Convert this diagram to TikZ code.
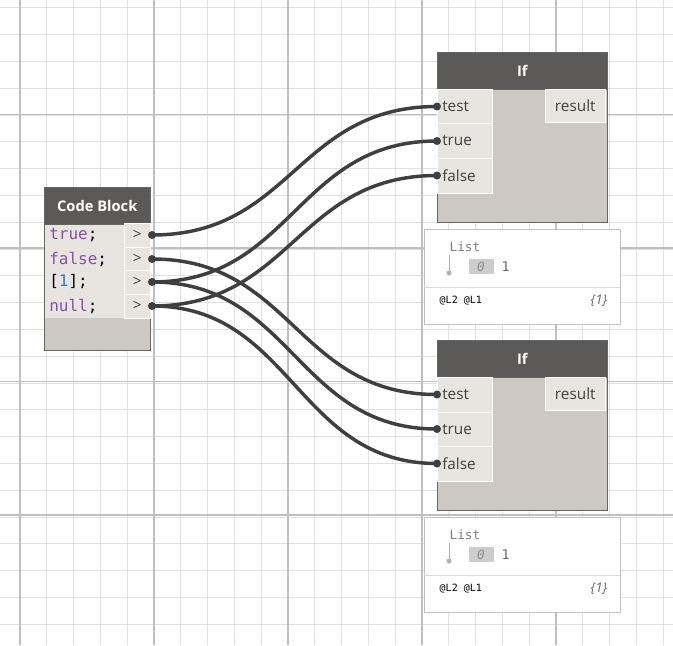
\documentclass[tikz,border=0pt]{standalone}
\usepackage{fontspec}
\setmainfont{Open Sans}
\newfontfamily\codefont{DejaVu Sans Mono}
\usetikzlibrary{positioning}
\definecolor{hdr}{HTML}{5C5A58}
\definecolor{bodyc}{HTML}{CDC9C2}
\definecolor{portc}{HTML}{E8E5E1}
\definecolor{wirec}{HTML}{3F3F3F}
\definecolor{kw}{HTML}{8A4FA8}
\definecolor{num}{HTML}{2A7FD0}
\tikzset{
  grid minor/.style={draw=black!12, line width=0.6pt},
  grid major/.style={draw=black!25, line width=1pt},
  header/.style={fill=hdr, draw=black!60, text=white, font=\bfseries\fontsize{11}{13}\selectfont},
  port/.style={fill=portc, draw=white, anchor=north west, inner sep=0pt, font=\fontsize{11.5}{13}\selectfont, text=black!75},
  wire/.style={draw=wirec, line width=2.6pt},
  dot/.style={circle, fill=wirec, inner sep=0pt, minimum size=6pt},
  code/.style={anchor=west, inner sep=0pt, font=\codefont\fontsize{12}{14}\selectfont},
  preview/.style={fill=white, draw=black!25, line width=0.6pt}
}
\begin{document}
\begin{tikzpicture}[x=0.75pt, y=-0.75pt]
  \useasboundingbox (0,0) rectangle (673,645);
  \fill[white] (0,0) rectangle (673,645);
  % grid
  \foreach \g in {0,...,25} {
    \draw[grid minor] (20+\g*26.8-26.8*1,0) -- ++(0,645);
    \draw[grid minor] (0,115+\g*26.8-26.8*5) -- ++(673,0);
  }
  \foreach \g in {0,...,4} {
    \draw[grid major] (20+\g*134,0) -- ++(0,645);
    \draw[grid major] (0,-19+\g*133.5) -- ++(673,0);
  }
  % code block
  \fill[bodyc, draw=black!60] (44,187) rectangle (150,350);
  \fill[portc] (45,224) rectangle (124,318);
  \node[header, minimum width=106*0.75pt, minimum height=37*0.75pt, anchor=north west, inner sep=0pt] (cbh) at (44,187) {Code Block};
  \foreach \t/\y [count=\i] in {{\textcolor{kw}{true};}/235,{\textcolor{kw}{false};}/259,{[\textcolor{num}{1}];}/282,{\textcolor{kw}{null};}/306} {
    \node[code] at (49,\y) {\t};
    \node[port, minimum width=26*0.75pt, minimum height=23.5*0.75pt] (cp\i) at (124,\y-11.75) {>};
    \coordinate (o\i) at (152,\y);
  }
  % if nodes
  \foreach \n/\top in {a/52,b/340} {
    \fill[bodyc, draw=black!60] (437,\top) rectangle (607,\top+170);
    \node[header, minimum width=170*0.75pt, minimum height=37*0.75pt, anchor=north west, inner sep=0pt] (\n h) at (437,\top) {If};
    \foreach \p/\k in {test/0,true/1,false/2}
      \node[port, minimum width=55*0.75pt, minimum height=34.5*0.75pt, text width=45*0.75pt, align=left] (\n\p) at (437,\top+37+\k*34.5) {\p};
    \node[port, minimum width=60*0.75pt, minimum height=33*0.75pt] (\n r) at (545,\top+37) {result};
  }
  % previews
  \foreach \top in {229,517} {
    \draw[preview] (424,\top) rectangle (620,\top+95);
    \draw[black!15] (424,\top+58) -- (620,\top+58);
    \node[anchor=west, text=black!50, font=\codefont\fontsize{9.5}{11}\selectfont] at (445,\top+18) {List};
    \draw[black!30] (449,\top+26) -- (449,\top+42);
    \fill[black!30] (449,\top+44) circle (2.5);
    \fill[black!20] (469,\top+30) rectangle (494,\top+45);
    \node[text=black!45, font=\codefont\itshape\fontsize{9.5}{11}\selectfont] at (481,\top+38) {0};
    \node[anchor=west, text=black!60, font=\codefont\fontsize{10}{11}\selectfont] at (497,\top+38) {1};
    \node[anchor=west, font=\codefont\fontsize{7.5}{9}\selectfont] at (435,\top+72) {@L2 @L1};
    \node[anchor=east, text=black!60, font=\itshape\fontsize{10}{12}\selectfont] at (612,\top+72) {\{1\}};
  }
  % wires
  \foreach \s/\t in {o1/atest,o3/atrue,o4/afalse,o2/btest,o3/btrue,o4/bfalse}
    \draw[wire] (\s) .. controls ++(140,0) and ([xshift=-140*0.75pt]\t.west) .. (\t.west);
  \foreach \i in {1,...,4} \node[dot] at (o\i) {};
  \foreach \t in {atest,atrue,afalse,btest,btrue,bfalse} \node[dot] at (\t.west) {};
\end{tikzpicture}
\end{document}
